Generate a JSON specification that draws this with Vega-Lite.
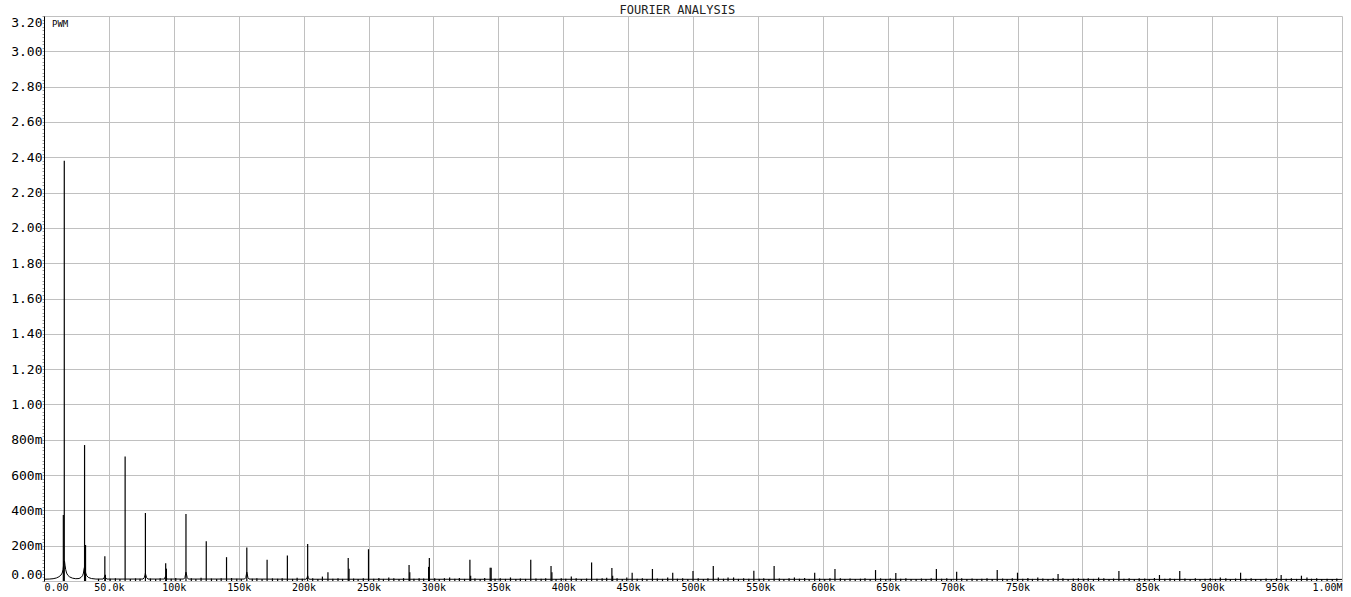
{
  "$schema": "https://vega.github.io/schema/vega-lite/v6.json",
  "description": "Fourier analysis of a PWM signal, harmonic spectrum up to 1 MHz.",
  "autosize": {"type": "none"},
  "padding": {"left": 44, "top": 16, "right": 9, "bottom": 16},
  "width": 1298,
  "height": 565,
  "background": "white",
  "title": {
    "text": "FOURIER ANALYSIS",
    "font": "DejaVu Sans Mono",
    "fontSize": 12,
    "fontWeight": "normal",
    "color": "#222222",
    "anchor": "middle",
    "frame": "bounds",
    "baseline": "alphabetic",
    "offset": -12
  },
  "config": {
    "view": {"stroke": null},
    "axis": {"labelFont": "DejaVu Sans Mono", "labelColor": "black", "gridColor": "#c0c0c0", "gridWidth": 1, "title": null}
  },
  "datasets": {
    "trace": [
      {"f": 0, "a": 0.010}, {"f": 4000, "a": 0.011}, {"f": 7000, "a": 0.013}, {"f": 9500, "a": 0.017},
      {"f": 11500, "a": 0.024}, {"f": 13000, "a": 0.033}, {"f": 14000, "a": 0.045}, {"f": 14700, "a": 0.065},
      {"f": 15100, "a": 0.09}, {"f": 15450, "a": 0.113}, {"f": 15800, "a": 0.113}, {"f": 16200, "a": 0.09},
      {"f": 16700, "a": 0.065}, {"f": 17400, "a": 0.045}, {"f": 18400, "a": 0.032}, {"f": 19800, "a": 0.023},
      {"f": 22000, "a": 0.016}, {"f": 24500, "a": 0.013}, {"f": 27000, "a": 0.014}, {"f": 28500, "a": 0.02},
      {"f": 29700, "a": 0.03}, {"f": 30400, "a": 0.045}, {"f": 30900, "a": 0.07}, {"f": 31250, "a": 0.08},
      {"f": 31600, "a": 0.07}, {"f": 32100, "a": 0.045}, {"f": 32900, "a": 0.03}, {"f": 34200, "a": 0.02},
      {"f": 36500, "a": 0.014}, {"f": 40000, "a": 0.011}, {"f": 45500, "a": 0.011}, {"f": 46400, "a": 0.02},
      {"f": 46875, "a": 0.03}, {"f": 47400, "a": 0.02}, {"f": 48300, "a": 0.011}, {"f": 76300, "a": 0.011},
      {"f": 77300, "a": 0.02}, {"f": 77900, "a": 0.035}, {"f": 78125, "a": 0.045}, {"f": 78400, "a": 0.035},
      {"f": 79000, "a": 0.02}, {"f": 80000, "a": 0.011}, {"f": 92800, "a": 0.011}, {"f": 93500, "a": 0.025},
      {"f": 94000, "a": 0.025}, {"f": 94700, "a": 0.011}, {"f": 107600, "a": 0.011}, {"f": 108600, "a": 0.02},
      {"f": 109100, "a": 0.04}, {"f": 109375, "a": 0.05}, {"f": 109700, "a": 0.04}, {"f": 110300, "a": 0.02},
      {"f": 111200, "a": 0.011}, {"f": 154500, "a": 0.011}, {"f": 155500, "a": 0.02}, {"f": 156000, "a": 0.04},
      {"f": 156250, "a": 0.05}, {"f": 156550, "a": 0.04}, {"f": 157100, "a": 0.02}, {"f": 158000, "a": 0.011},
      {"f": 202000, "a": 0.010}, {"f": 202700, "a": 0.02}, {"f": 203125, "a": 0.03}, {"f": 203600, "a": 0.02},
      {"f": 204300, "a": 0.010}, {"f": 1000000, "a": 0.009}
    ],
    "spikes": [
      {"f": 15625, "a": 2.38}, {"f": 14900, "a": 0.374},
      {"f": 31250, "a": 0.77}, {"f": 32000, "a": 0.204},
      {"f": 46875, "a": 0.14}, {"f": 47300, "a": 0.035},
      {"f": 62500, "a": 0.705},
      {"f": 78125, "a": 0.385},
      {"f": 93750, "a": 0.10}, {"f": 94300, "a": 0.07},
      {"f": 109375, "a": 0.38},
      {"f": 125000, "a": 0.225},
      {"f": 140625, "a": 0.135},
      {"f": 156250, "a": 0.19},
      {"f": 171875, "a": 0.12},
      {"f": 187500, "a": 0.145},
      {"f": 203125, "a": 0.21},
      {"f": 218750, "a": 0.05},
      {"f": 234375, "a": 0.13}, {"f": 235000, "a": 0.07},
      {"f": 250000, "a": 0.18},
      {"f": 265625, "a": 0.02},
      {"f": 281250, "a": 0.09}, {"f": 281800, "a": 0.05},
      {"f": 296875, "a": 0.13}, {"f": 296300, "a": 0.08},
      {"f": 312500, "a": 0.02},
      {"f": 328125, "a": 0.12}, {"f": 328700, "a": 0.03},
      {"f": 343750, "a": 0.075}, {"f": 344500, "a": 0.075},
      {"f": 359375, "a": 0.02},
      {"f": 375000, "a": 0.12},
      {"f": 390625, "a": 0.085}, {"f": 391300, "a": 0.05},
      {"f": 406250, "a": 0.025},
      {"f": 421875, "a": 0.105},
      {"f": 437500, "a": 0.074}, {"f": 438100, "a": 0.03},
      {"f": 453125, "a": 0.047},
      {"f": 468750, "a": 0.068},
      {"f": 484375, "a": 0.047},
      {"f": 500000, "a": 0.057},
      {"f": 515625, "a": 0.085},
      {"f": 531250, "a": 0.02},
      {"f": 546875, "a": 0.058},
      {"f": 562500, "a": 0.085},
      {"f": 578125, "a": 0.02},
      {"f": 593750, "a": 0.047},
      {"f": 609375, "a": 0.068},
      {"f": 625000, "a": 0.012},
      {"f": 640625, "a": 0.062},
      {"f": 656250, "a": 0.045},
      {"f": 671875, "a": 0.012},
      {"f": 687500, "a": 0.068},
      {"f": 703125, "a": 0.053},
      {"f": 718750, "a": 0.012},
      {"f": 734375, "a": 0.062},
      {"f": 750000, "a": 0.047},
      {"f": 765625, "a": 0.02},
      {"f": 781250, "a": 0.04},
      {"f": 796875, "a": 0.015},
      {"f": 812500, "a": 0.02},
      {"f": 828125, "a": 0.057},
      {"f": 843750, "a": 0.015},
      {"f": 859375, "a": 0.034},
      {"f": 875000, "a": 0.057},
      {"f": 890625, "a": 0.012},
      {"f": 906250, "a": 0.02},
      {"f": 921875, "a": 0.047},
      {"f": 937500, "a": 0.012},
      {"f": 953125, "a": 0.034},
      {"f": 968750, "a": 0.03},
      {"f": 984375, "a": 0.012},
      {"f": 42000, "a": 0.012},
      {"f": 51000, "a": 0.013}, {"f": 55000, "a": 0.016}, {"f": 58500, "a": 0.011},
      {"f": 66500, "a": 0.012}, {"f": 70500, "a": 0.015}, {"f": 74000, "a": 0.013},
      {"f": 82000, "a": 0.014}, {"f": 86000, "a": 0.012}, {"f": 89500, "a": 0.016},
      {"f": 98000, "a": 0.013}, {"f": 101500, "a": 0.017}, {"f": 105000, "a": 0.012},
      {"f": 113500, "a": 0.015}, {"f": 117000, "a": 0.012}, {"f": 121000, "a": 0.018},
      {"f": 129000, "a": 0.014}, {"f": 133000, "a": 0.012}, {"f": 136500, "a": 0.016},
      {"f": 144500, "a": 0.017}, {"f": 148500, "a": 0.013}, {"f": 152000, "a": 0.012},
      {"f": 160500, "a": 0.013}, {"f": 164000, "a": 0.016}, {"f": 168000, "a": 0.012},
      {"f": 176000, "a": 0.015}, {"f": 180000, "a": 0.013}, {"f": 183500, "a": 0.016},
      {"f": 191500, "a": 0.012}, {"f": 195000, "a": 0.018}, {"f": 199000, "a": 0.013},
      {"f": 207000, "a": 0.016}, {"f": 211000, "a": 0.012}, {"f": 214500, "a": 0.025},
      {"f": 222500, "a": 0.013}, {"f": 226500, "a": 0.016}, {"f": 230000, "a": 0.012},
      {"f": 238500, "a": 0.014}, {"f": 242000, "a": 0.012}, {"f": 246000, "a": 0.015},
      {"f": 254000, "a": 0.013}, {"f": 258000, "a": 0.017}, {"f": 261500, "a": 0.012},
      {"f": 269500, "a": 0.015}, {"f": 273500, "a": 0.012}, {"f": 277000, "a": 0.016},
      {"f": 285000, "a": 0.013}, {"f": 289000, "a": 0.016}, {"f": 292500, "a": 0.014},
      {"f": 301000, "a": 0.015}, {"f": 304500, "a": 0.012}, {"f": 308500, "a": 0.016},
      {"f": 316500, "a": 0.013}, {"f": 320000, "a": 0.017}, {"f": 324000, "a": 0.012},
      {"f": 332000, "a": 0.014}, {"f": 336000, "a": 0.012}, {"f": 339500, "a": 0.017},
      {"f": 347500, "a": 0.013}, {"f": 351500, "a": 0.015}, {"f": 355500, "a": 0.012},
      {"f": 363500, "a": 0.012}, {"f": 367000, "a": 0.014}, {"f": 371000, "a": 0.012},
      {"f": 379000, "a": 0.014}, {"f": 383000, "a": 0.013}, {"f": 386500, "a": 0.016},
      {"f": 394500, "a": 0.012}, {"f": 398500, "a": 0.015}, {"f": 402000, "a": 0.013},
      {"f": 410000, "a": 0.016}, {"f": 414000, "a": 0.012}, {"f": 418000, "a": 0.014},
      {"f": 426000, "a": 0.013}, {"f": 430000, "a": 0.016}, {"f": 433500, "a": 0.018},
      {"f": 441500, "a": 0.015}, {"f": 445500, "a": 0.012}, {"f": 449000, "a": 0.02},
      {"f": 457000, "a": 0.013}, {"f": 461000, "a": 0.016}, {"f": 464500, "a": 0.012},
      {"f": 472500, "a": 0.014}, {"f": 476500, "a": 0.012}, {"f": 480500, "a": 0.02},
      {"f": 488000, "a": 0.013}, {"f": 492000, "a": 0.016}, {"f": 496000, "a": 0.012},
      {"f": 504000, "a": 0.015}, {"f": 508000, "a": 0.012}, {"f": 511500, "a": 0.016},
      {"f": 519500, "a": 0.02}, {"f": 523500, "a": 0.013}, {"f": 527000, "a": 0.02},
      {"f": 535000, "a": 0.012}, {"f": 539000, "a": 0.016}, {"f": 543000, "a": 0.013},
      {"f": 551000, "a": 0.013}, {"f": 554500, "a": 0.016}, {"f": 558500, "a": 0.012},
      {"f": 566500, "a": 0.014}, {"f": 570000, "a": 0.012}, {"f": 574000, "a": 0.016},
      {"f": 582000, "a": 0.013}, {"f": 586000, "a": 0.017}, {"f": 589500, "a": 0.012},
      {"f": 597500, "a": 0.014}, {"f": 601500, "a": 0.012}, {"f": 605500, "a": 0.015},
      {"f": 613500, "a": 0.016}, {"f": 617000, "a": 0.012}, {"f": 621000, "a": 0.014},
      {"f": 629000, "a": 0.013}, {"f": 632500, "a": 0.016}, {"f": 636500, "a": 0.012},
      {"f": 644500, "a": 0.015}, {"f": 648500, "a": 0.012}, {"f": 652000, "a": 0.014},
      {"f": 660000, "a": 0.013}, {"f": 664000, "a": 0.016}, {"f": 668000, "a": 0.012},
      {"f": 676000, "a": 0.014}, {"f": 679500, "a": 0.012}, {"f": 683500, "a": 0.016},
      {"f": 691500, "a": 0.013}, {"f": 695500, "a": 0.015}, {"f": 699000, "a": 0.012},
      {"f": 707000, "a": 0.016}, {"f": 711000, "a": 0.012}, {"f": 715000, "a": 0.014},
      {"f": 722500, "a": 0.013}, {"f": 726500, "a": 0.016}, {"f": 730500, "a": 0.012},
      {"f": 738500, "a": 0.014}, {"f": 742000, "a": 0.012}, {"f": 746000, "a": 0.016},
      {"f": 754000, "a": 0.013}, {"f": 758000, "a": 0.017}, {"f": 761500, "a": 0.012},
      {"f": 769500, "a": 0.014}, {"f": 773500, "a": 0.012}, {"f": 777500, "a": 0.015},
      {"f": 785000, "a": 0.016}, {"f": 789000, "a": 0.012}, {"f": 793000, "a": 0.014},
      {"f": 801000, "a": 0.013}, {"f": 804500, "a": 0.016}, {"f": 808500, "a": 0.012},
      {"f": 816500, "a": 0.015}, {"f": 820500, "a": 0.012}, {"f": 824000, "a": 0.014},
      {"f": 832000, "a": 0.013}, {"f": 836000, "a": 0.016}, {"f": 840000, "a": 0.012},
      {"f": 848000, "a": 0.014}, {"f": 851500, "a": 0.012}, {"f": 855500, "a": 0.017},
      {"f": 863500, "a": 0.013}, {"f": 867500, "a": 0.015}, {"f": 871000, "a": 0.012},
      {"f": 879000, "a": 0.014}, {"f": 883000, "a": 0.012}, {"f": 887000, "a": 0.016},
      {"f": 894500, "a": 0.013}, {"f": 898500, "a": 0.016}, {"f": 902500, "a": 0.012},
      {"f": 910500, "a": 0.015}, {"f": 914000, "a": 0.012}, {"f": 918000, "a": 0.014},
      {"f": 926000, "a": 0.013}, {"f": 930000, "a": 0.016}, {"f": 933500, "a": 0.012},
      {"f": 941500, "a": 0.014}, {"f": 945500, "a": 0.012}, {"f": 949500, "a": 0.016},
      {"f": 957000, "a": 0.013}, {"f": 961000, "a": 0.015}, {"f": 965000, "a": 0.012},
      {"f": 973000, "a": 0.02}, {"f": 976500, "a": 0.013}, {"f": 980500, "a": 0.016},
      {"f": 988500, "a": 0.013}, {"f": 992500, "a": 0.012}, {"f": 996000, "a": 0.014}
    ],
    "tag": [{"f": 0, "a": 3.2, "label": "PWM"}]
  },
  "encoding": {
    "x": {
      "field": "f",
      "type": "quantitative",
      "scale": {"domain": [0, 1000000], "nice": false, "zero": false},
      "axis": {
        "values": [0, 50000, 100000, 150000, 200000, 250000, 300000, 350000, 400000, 450000, 500000, 550000, 600000, 650000, 700000, 750000, 800000, 850000, 900000, 950000, 1000000],
        "labelExpr": "datum.value == 0 ? '0.00' : datum.value < 100000 ? format(datum.value / 1000, '.1f') + 'k' : datum.value < 1000000 ? format(datum.value / 1000, 'd') + 'k' : format(datum.value / 1000000, '.2f') + 'M'",
        "labelFontSize": 10,
        "labelFlush": true,
        "labelOverlap": false,
        "labelPadding": 1,
        "ticks": false,
        "domainColor": "#c0c0c0",
        "grid": true
      }
    },
    "y": {
      "field": "a",
      "type": "quantitative",
      "scale": {"domain": [0, 3.2], "nice": false},
      "axis": {
        "values": [0, 0.02, 0.04, 0.06, 0.08, 0.1, 0.12, 0.14, 0.16, 0.18, 0.2, 0.22, 0.24, 0.26, 0.28, 0.3, 0.32, 0.34, 0.36, 0.38, 0.4, 0.42, 0.44, 0.46, 0.48, 0.5, 0.52, 0.54, 0.56, 0.58, 0.6, 0.62, 0.64, 0.66, 0.68, 0.7, 0.72, 0.74, 0.76, 0.78, 0.8, 0.82, 0.84, 0.86, 0.88, 0.9, 0.92, 0.94, 0.96, 0.98, 1, 1.02, 1.04, 1.06, 1.08, 1.1, 1.12, 1.14, 1.16, 1.18, 1.2, 1.22, 1.24, 1.26, 1.28, 1.3, 1.32, 1.34, 1.36, 1.38, 1.4, 1.42, 1.44, 1.46, 1.48, 1.5, 1.52, 1.54, 1.56, 1.58, 1.6, 1.62, 1.64, 1.66, 1.68, 1.7, 1.72, 1.74, 1.76, 1.78, 1.8, 1.82, 1.84, 1.86, 1.88, 1.9, 1.92, 1.94, 1.96, 1.98, 2, 2.02, 2.04, 2.06, 2.08, 2.1, 2.12, 2.14, 2.16, 2.18, 2.2, 2.22, 2.24, 2.26, 2.28, 2.3, 2.32, 2.34, 2.36, 2.38, 2.4, 2.42, 2.44, 2.46, 2.48, 2.5, 2.52, 2.54, 2.56, 2.58, 2.6, 2.62, 2.64, 2.66, 2.68, 2.7, 2.72, 2.74, 2.76, 2.78, 2.8, 2.82, 2.84, 2.86, 2.88, 2.9, 2.92, 2.94, 2.96, 2.98, 3, 3.02, 3.04, 3.06, 3.08, 3.1, 3.12, 3.14, 3.16, 3.18, 3.2],
        "labelExpr": "abs(datum.value * 5 - round(datum.value * 5)) > 0.001 ? '' : datum.value == 0 ? '0.00' : datum.value < 0.999 ? format(datum.value * 1000, '.0f') + 'm' : format(datum.value, '.2f')",
        "labelFontSize": 13,
        "labelFlush": true,
        "labelOverlap": false,
        "labelPadding": 0,
        "tickSize": 2,
        "tickColor": "#a0a0a0",
        "domainColor": "black",
        "grid": true,
        "gridOpacity": {"condition": {"test": "abs(datum.value * 5 - round(datum.value * 5)) < 0.001", "value": 1}, "value": 0}
      }
    }
  },
  "layer": [
    {
      "data": {"name": "trace"},
      "mark": {"type": "line", "color": "black", "strokeWidth": 1, "interpolate": "linear"}
    },
    {
      "data": {"name": "spikes"},
      "mark": {"type": "rule", "color": "black", "strokeWidth": 1.2},
      "encoding": {"y2": {"datum": 0}}
    },
    {
      "data": {"name": "tag"},
      "mark": {"type": "text", "font": "DejaVu Sans Mono", "fontSize": 9, "align": "left", "baseline": "middle", "dx": 8, "dy": 8, "color": "black"},
      "encoding": {"text": {"field": "label"}}
    }
  ]
}
